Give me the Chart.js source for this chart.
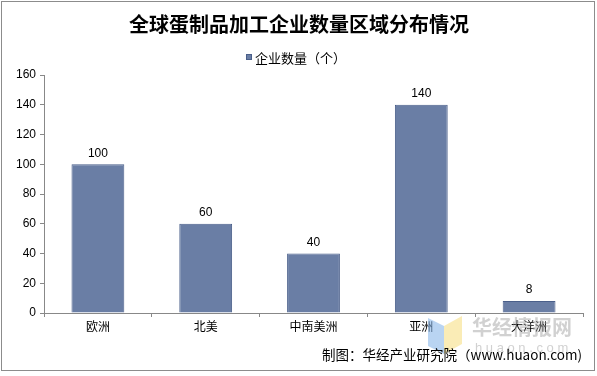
<!DOCTYPE html>
<html><head><meta charset="utf-8">
<script src="https://cdn.jsdelivr.net/npm/chart.js@4/dist/chart.umd.min.js"></script>
<style>html,body{margin:0;padding:0;background:#fff}#wrap{width:597px;height:376px}</style>
</head><body><div id="wrap"><canvas id="c" width="597" height="376"></canvas></div>
<script>
const categories = ["欧洲", "北美", "中南美洲", "亚洲", "大洋洲"];
const seriesName = "企业数量（个）";
const values = [100, 60, 40, 140, 8];
const titleText = "全球蛋制品加工企业数量区域分布情况";
const sourceText = "制图：华经产业研究院（www.huaon.com)";

const CJK = '"Noto Sans CJK SC", "Liberation Sans", sans-serif';
const ARIAL = '"Liberation Sans", Arial, sans-serif';

const deco = {
  id: 'deco',
  beforeDraw(chart) {
    const ctx = chart.ctx;
    ctx.save();
    ctx.fillStyle = '#fff';
    ctx.fillRect(0, 0, chart.width, chart.height);
    ctx.restore();
  },
  afterDraw(chart) {
    const ctx = chart.ctx;
    ctx.save();
    // outer frame
    ctx.strokeStyle = '#8c8c8c';
    ctx.lineWidth = 1;
    ctx.strokeRect(1.5, 1.5, 593, 369);
    // title
    ctx.fillStyle = '#000';
    ctx.textAlign = 'center';
    ctx.textBaseline = 'middle';
    ctx.font = 'bold 20px ' + CJK;
    ctx.fillText(titleText, 299, 24);
    // legend
    ctx.font = '13px ' + CJK;
    ctx.textAlign = 'left';
    const tw = ctx.measureText(seriesName).width;
    const lx = 296 - (tw + 9) / 2;
    ctx.fillStyle = '#6a7ea5';
    ctx.fillRect(lx, 54, 6, 6);
    ctx.strokeStyle = '#4a5f8a';
    ctx.strokeRect(lx + 0.5, 54.5, 5, 5);
    ctx.fillStyle = '#000';
    ctx.fillText(seriesName, lx + 9, 58);
    // data labels
    const meta = chart.getDatasetMeta(0);
    ctx.font = '12px ' + ARIAL;
    ctx.textAlign = 'center';
    ctx.textBaseline = 'bottom';
    meta.data.forEach((bar, i) => {
      ctx.fillText(String(values[i]), bar.x, bar.y - 5);
    });
    // watermark
    ctx.globalAlpha = 0.55;
    ctx.fillStyle = '#7fb0e8';
    ctx.beginPath();
    ctx.moveTo(428, 318); ctx.lineTo(444, 326); ctx.lineTo(444, 354); ctx.lineTo(428, 346); ctx.closePath(); ctx.fill();
    ctx.fillStyle = '#f5dc7a';
    ctx.beginPath();
    ctx.moveTo(444, 326); ctx.lineTo(462, 316); ctx.lineTo(462, 344); ctx.lineTo(444, 354); ctx.closePath(); ctx.fill();
    ctx.globalAlpha = 0.45;
    ctx.fillStyle = '#9a9a9a';
    ctx.textAlign = 'left';
    ctx.textBaseline = 'middle';
    ctx.font = 'bold 20px ' + CJK;
    ctx.fillText('华经情报网', 472, 327);
    ctx.font = '13px ' + ARIAL;
    ctx.fillText('h u a o n . c o m', 475, 348);
    ctx.globalAlpha = 1;
    // source
    ctx.fillStyle = '#000';
    ctx.font = '13.5px ' + CJK;
    ctx.textAlign = 'right';
    ctx.textBaseline = 'middle';
    ctx.fillText(sourceText, 582, 355);
    ctx.restore();
  }
};

new Chart(document.getElementById('c'), {
  type: 'bar',
  data: {
    labels: categories,
    datasets: [{
      label: seriesName,
      data: values,
      backgroundColor: '#6a7ea5',
      borderColor: '#4a5f8a',
      borderWidth: 1,
      categoryPercentage: 1.0,
      barPercentage: 0.49
    }]
  },
  options: {
    responsive: false,
    animation: false,
    devicePixelRatio: 1,
    layout: { padding: { left: 0, right: 14, top: 75, bottom: 33 } },
    plugins: { legend: { display: false }, title: { display: false }, tooltip: { enabled: false } },
    scales: {
      x: {
        offset: true,
        grid: { display: true, drawOnChartArea: false, offset: true, tickLength: 4, color: '#888' },
        border: { display: true, color: '#888', width: 1 },
        ticks: { color: '#000', font: { family: CJK, size: 12 }, padding: 2, maxRotation: 0 },
        afterFit(s) { s.height = 30; }
      },
      y: {
        min: 0, max: 160,
        ticks: { stepSize: 20, color: '#000', font: { family: ARIAL, size: 12 }, padding: 4 },
        grid: { display: true, drawOnChartArea: false, tickLength: 4, color: '#888' },
        border: { display: true, color: '#888', width: 1 },
        afterFit(s) { s.width = 44; }
      }
    }
  },
  plugins: [deco]
});
</script>
</body></html>
